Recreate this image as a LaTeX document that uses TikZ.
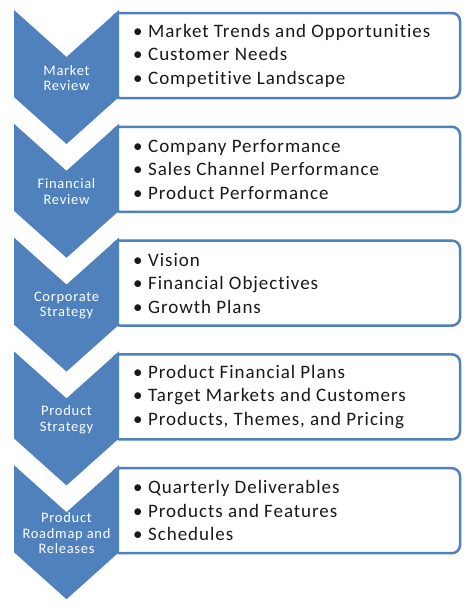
\documentclass[tikz,border=0pt]{standalone}
\usepackage{fontspec}
\setmainfont{Carlito}[LetterSpace=5.0, Ligatures=NoCommon]
\definecolor{stageblue}{RGB}{79,129,189}
\newcommand{\itm}{\makebox[15pt][l]{•}}

\begin{document}
\begin{tikzpicture}[x=1pt,y=1pt]
      \tikzset{
        stage/.style={fill=stageblue},
        listbox/.style={draw=stageblue, line width=2.5pt, fill=white, rounded corners=8pt},
        stagelabel/.style={text=white, align=center, inner sep=0pt,
          font=\fontsize{14.5}{15.8}\selectfont},
        items/.style={anchor=west, align=left, inner sep=0pt, text=black!90,
          font=\fontsize{19}{23.5}\selectfont}
      }
      % Page area
      \useasboundingbox (0,0) rectangle (474,-613);
      \fill[white] (0,0) rectangle (474,-613);

      % 1. One stage per row: list box, then the chevron on top of it
      \foreach \i/\lab/\items in {
          0/{Market\\Review}/{\itm Market Trends and Opportunities\\ \itm Customer Needs\\ \itm Competitive Landscape},
          1/{Financial\\Review}/{\itm Company Performance\\ \itm Sales Channel Performance\\ \itm Product Performance},
          2/{Corporate\\Strategy}/{\itm Vision\\ \itm Financial Objectives\\ \itm Growth Plans},
          3/{Product\\Strategy}/{\itm Product Financial Plans\\ \itm Target Markets and Customers\\ \itm {Products, Themes, and Pricing}},
          4/{Product\\Roadmap and\\Releases}/{\itm Quarterly Deliverables\\ \itm Products and Features\\ \itm Schedules}} {
        \pgfmathsetmacro{\ytop}{10+113.8*\i}
        % List box (right side)
        \draw[listbox] (112,-\ytop-3) rectangle (460,-\ytop-88);
        % Chevron (left side)
        \fill[stage] (14,-\ytop) -- (66.5,-\ytop-47) -- (119,-\ytop) -- (119,-\ytop-87)
          -- (66.5,-\ytop-134) -- (14,-\ytop-87) -- cycle;
        % Labels
        \node[stagelabel] (label\i) at (66.5,-\ytop-68) {\lab};
        \node[items] (list\i) at (133,-\ytop-45.5) {\items};
      }
\end{tikzpicture}
\end{document}
